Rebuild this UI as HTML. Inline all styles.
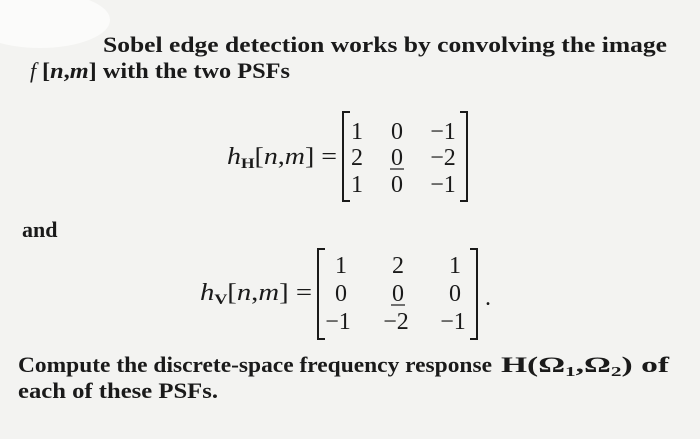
<!DOCTYPE html>
<html><head><meta charset="utf-8"><style>
html,body{margin:0;padding:0;background:#f3f3f1;}
svg{display:block}
text{font-family:"Liberation Serif",serif;fill:#1a1a1a}
.b{font-weight:bold;font-size:22px}
.m{font-size:24px}
</style></head><body>
<svg width="700" height="439" viewBox="0 0 700 439">
<rect width="700" height="439" fill="#f3f3f1"/>
<ellipse cx="40" cy="20" rx="70" ry="28" fill="#fbfbfa"/>
<text class="b" x="103" y="52" textLength="564" lengthAdjust="spacingAndGlyphs">Sobel edge detection works by convolving the image</text>
<text x="30" y="78" font-size="22" font-style="italic">f</text>
<text class="b" x="42" y="78" textLength="248" lengthAdjust="spacingAndGlyphs">[<tspan font-style="italic">n</tspan>,<tspan font-style="italic">m</tspan>] with the two PSFs</text>

<text class="m" x="227" y="164" textLength="110" lengthAdjust="spacingAndGlyphs"><tspan font-style="italic">h</tspan><tspan font-size="15" font-weight="bold" dy="4">H</tspan><tspan dy="-4">[</tspan><tspan font-style="italic">n</tspan>,<tspan font-style="italic">m</tspan>] =</text>
<path d="M350 112 H343 V201 H350" fill="none" stroke="#1a1a1a" stroke-width="2"/>
<path d="M460 112 H467 V201 H460" fill="none" stroke="#1a1a1a" stroke-width="2"/>
<g text-anchor="middle">
<text x="357" y="139" class="m">1</text><text x="397" y="139" class="m">0</text><text x="443" y="139" class="m">−1</text>
<text x="357" y="165" class="m">2</text><text x="397" y="165" class="m">0</text><text x="443" y="165" class="m">−2</text>
<text x="357" y="192" class="m">1</text><text x="397" y="192" class="m">0</text><text x="443" y="192" class="m">−1</text>
</g>
<line x1="390" y1="169" x2="404" y2="169" stroke="#1a1a1a" stroke-width="1.2"/>

<text class="b" x="22" y="237">and</text>

<text class="m" x="200" y="300" textLength="112" lengthAdjust="spacingAndGlyphs"><tspan font-style="italic">h</tspan><tspan font-size="15" font-weight="bold" dy="4">V</tspan><tspan dy="-4">[</tspan><tspan font-style="italic">n</tspan>,<tspan font-style="italic">m</tspan>] =</text>
<path d="M325 249 H318 V339 H325" fill="none" stroke="#1a1a1a" stroke-width="2"/>
<path d="M470 249 H477 V339 H470" fill="none" stroke="#1a1a1a" stroke-width="2"/>
<text x="485" y="305" class="m">.</text>
<g text-anchor="middle">
<text x="341" y="273" class="m">1</text><text x="398" y="273" class="m">2</text><text x="455" y="273" class="m">1</text>
<text x="341" y="301" class="m">0</text><text x="398" y="301" class="m">0</text><text x="455" y="301" class="m">0</text>
<text x="338" y="329" class="m">−1</text><text x="396" y="329" class="m">−2</text><text x="453" y="329" class="m">−1</text>
</g>
<line x1="391" y1="305" x2="405" y2="305" stroke="#1a1a1a" stroke-width="1.2"/>

<text class="b" x="18" y="372" textLength="474" lengthAdjust="spacingAndGlyphs">Compute the discrete-space frequency response</text>
<text class="b" x="501" y="372" textLength="168" lengthAdjust="spacingAndGlyphs">H(Ω<tspan font-size="14" dy="4">1</tspan><tspan dy="-4">,Ω</tspan><tspan font-size="14" dy="4">2</tspan><tspan dy="-4">) of</tspan></text>
<text class="b" x="18" y="398" textLength="200" lengthAdjust="spacingAndGlyphs">each of these PSFs.</text>
</svg>
</body></html>
